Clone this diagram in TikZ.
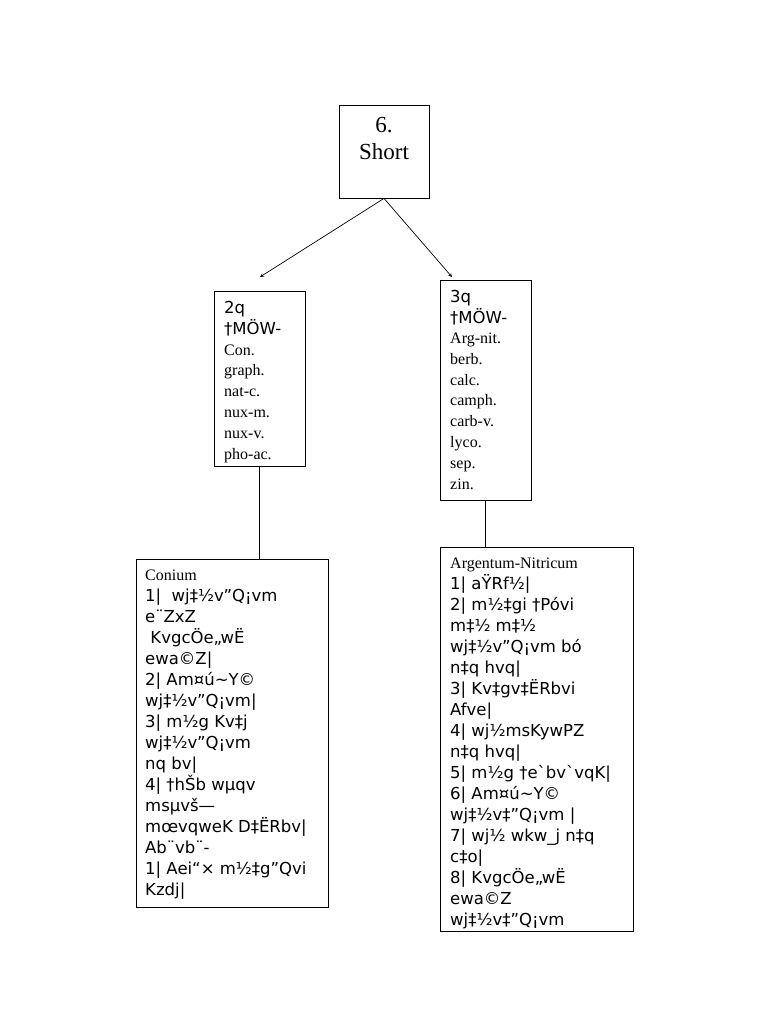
\documentclass[tikz,border=0pt]{standalone}
\usepackage{fontspec}
\setmainfont{Liberation Serif}
\newfontfamily\bn{DejaVu Sans}
\begin{document}
\begin{tikzpicture}[x=1pt,y=-1pt,
  box/.style={draw,line width=0.8pt},
  ln/.style={anchor=base west,inner sep=0pt},
  sr/.style={font=\fontsize{16}{19}\selectfont},
  ss/.style={font=\bn\fontsize{16.5}{19}\selectfont},
  conn/.style={line width=0.7pt}]
\useasboundingbox (0,0) rectangle (768,1024);
\node[box,minimum width=90pt,minimum height=93pt,inner sep=0pt] (top) at (384,151.5) {};
\node[font=\fontsize{23}{27}\selectfont,align=center] (toptext) at (384,138) {6.\\Short};
\node[box,minimum width=91pt,minimum height=175pt,inner sep=0pt] (lm) at (259.5,378.5) {};
\node[box,minimum width=91pt,minimum height=220pt,inner sep=0pt] (rm) at (485.5,390) {};
\node[box,minimum width=192pt,minimum height=348pt,inner sep=0pt] (lb) at (232,733) {};
\node[box,minimum width=193pt,minimum height=384pt,inner sep=0pt] (rb) at (536.5,739) {};
\draw[conn,-stealth] (top.south) -- (260,277);
\draw[conn,-stealth] (top.south) -- (452,277);
\draw[conn] (lm.south) -- (lb.north -| lm.south);
\draw[conn] (rm.south) -- (rb.north -| rm.south);
% left middle
\begin{scope}
\clip (214,291) rectangle (305,465);
\node[ln,ss] (a1) at (224,313) {2q};
\node[ln,ss] (a2) at (224,334) {†MÖW-};
\foreach \t [count=\i] in {Con.,graph.,nat-c.,nux-m.,nux-v.,pho-ac.}
  \node[ln,sr] (a\i x) at (224,355+20.8*\i-20.8) {\t};
\end{scope}
% right middle
\begin{scope}
\clip (440,280) rectangle (531,499);
\node[ln,ss] (b1) at (450,302) {3q};
\node[ln,ss] (b2) at (450,323) {†MÖW-};
\foreach \t [count=\i] in {Arg-nit.,berb.,calc.,camph.,carb-v.,lyco.,sep.,zin.}
  \node[ln,sr] (b\i x) at (450,343.5+20.8*\i-20.8) {\t};
\end{scope}
% left bottom
\begin{scope}
\clip (136,559) rectangle (328,906);
\node[ln,sr] (c0) at (145,580) {Conium};
\foreach \t [count=\i] in {1|\ \ wj‡½v”Q¡vm,e¨ZxZ,\ KvgcÖe„wË,ewa©Z|,2| Am¤ú\textasciitilde Y©,wj‡½v”Q¡vm|,3| m½g Kv‡j,wj‡½v”Q¡vm,nq bv|,4| †hŠb wµqv,msµvš—,mœvqweK D‡ËRbv|,Ab¨vb¨-,1| Aei“× m½‡g”Qvi,Kzdj|}
  \node[ln,ss] (c\i) at (145,601+21*\i-21) {\t};
\end{scope}
% right bottom
\begin{scope}
\clip (440,547) rectangle (633,930);
\node[ln,sr] (d0) at (450,568) {Argentum-Nitricum};
\foreach \t [count=\i] in {1| aŸRf½|,2| m½‡gi †Póvi,m‡½ m‡½,wj‡½v”Q¡vm bó,n‡q hvq|,3| Kv‡gv‡ËRbvi,Afve|,4| wj½msKywPZ,n‡q hvq|,5| m½g †e`bv`vqK|,6| Am¤ú\textasciitilde Y©,wj‡½v‡”Q¡vm |,7| wj½ wkw\_j n‡q,c‡o|,8| KvgcÖe„wË,ewa©Z,wj‡½v‡”Q¡vm}
  \node[ln,ss] (d\i) at (450,589+21*\i-21) {\t};
\end{scope}
\end{tikzpicture}
\end{document}
